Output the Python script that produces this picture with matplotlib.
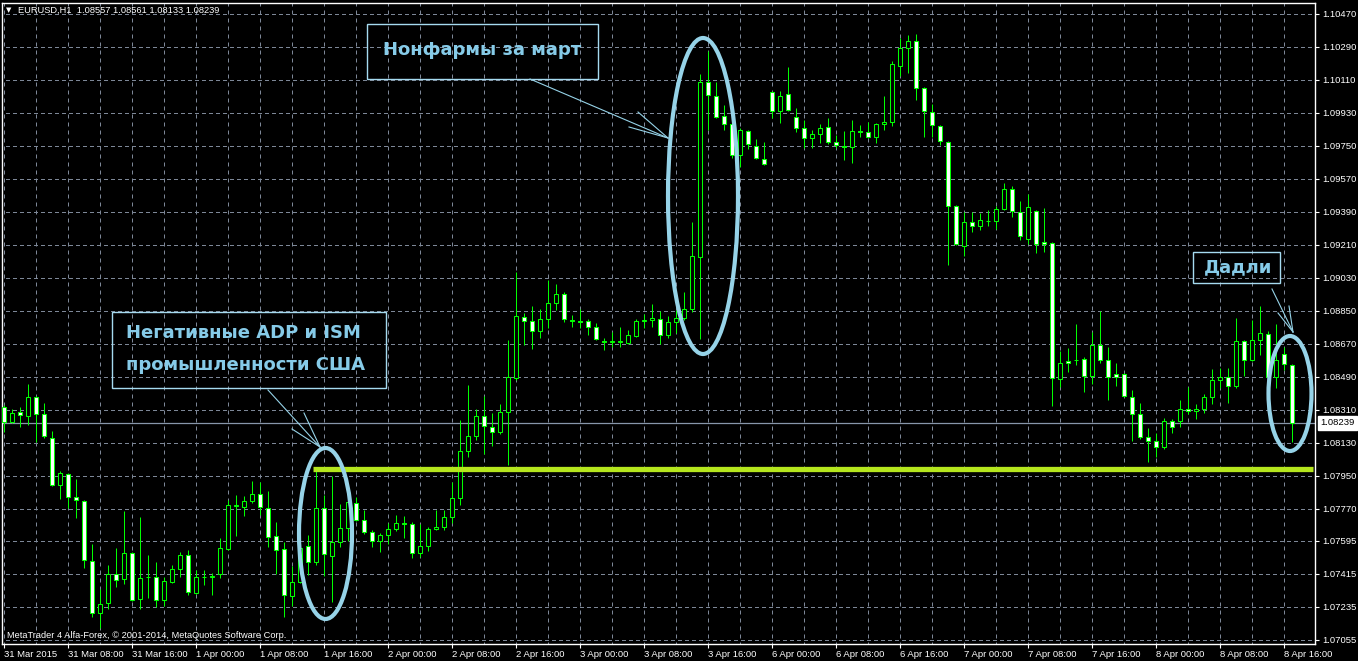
import matplotlib
matplotlib.use('Agg')
import matplotlib.pyplot as plt
from matplotlib.patches import Ellipse, Rectangle
import numpy as np

# ---------------- data (EURUSD H1, 31 Mar 2015 00:00 .. 8 Apr 2015 17:00) ----------------
opens = [1.08326, 1.08244, 1.08299, 1.08277, 1.08381, 1.08288, 1.08157, 1.07900, 1.07960, 1.07835,
         1.07814, 1.07486, 1.07202, 1.07257, 1.07415, 1.07388, 1.07530, 1.07279, 1.07399, 1.07399,
         1.07273, 1.07372, 1.07443, 1.07519, 1.07312, 1.07399, 1.07399, 1.07415, 1.07552, 1.07786,
         1.07781, 1.07814, 1.07851, 1.07775, 1.07623, 1.07552, 1.07295, 1.07372, 1.07568, 1.07481,
         1.07775, 1.07514, 1.07590, 1.07666, 1.07803, 1.07710, 1.07644, 1.07595, 1.07628, 1.07661,
         1.07694, 1.07688, 1.07530, 1.07568, 1.07661, 1.07672, 1.07726, 1.07829, 1.08086, 1.08168,
         1.08277, 1.08217, 1.08189, 1.08299, 1.08485, 1.08817, 1.08795, 1.08741, 1.08806, 1.08894,
         1.08942, 1.08801, 1.08795, 1.08795, 1.08763, 1.08686, 1.08681, 1.08681, 1.08675, 1.08714,
         1.08795, 1.08801, 1.08806, 1.08719, 1.08790, 1.08812, 1.08861, 1.09144, 1.10099, 1.10022,
         1.09914, 1.09870, 1.09701, 1.09832, 1.09750, 1.09679, 1.10044, 1.09941, 1.10033, 1.09908,
         1.09848, 1.09794, 1.09816, 1.09854, 1.09772, 1.09750, 1.09745, 1.09832, 1.09826, 1.09799,
         1.09870, 1.09881, 1.10186, 1.10284, 1.10322, 1.10066, 1.09936, 1.09859, 1.09772, 1.09422,
         1.09204, 1.09335, 1.09313, 1.09340, 1.09340, 1.09406, 1.09516, 1.09390, 1.09242, 1.09395,
         1.09226, 1.09220, 1.08480, 1.08577, 1.08583, 1.08588, 1.08495, 1.08665, 1.08583, 1.08506,
         1.08506, 1.08381, 1.08288, 1.08162, 1.08140, 1.08108, 1.08249, 1.08249, 1.08315, 1.08304,
         1.08315, 1.08381, 1.08474, 1.08490, 1.08441, 1.08686, 1.08583, 1.08692, 1.08725, 1.08490,
         1.08615, 1.08557]
highs = [1.08337, 1.08315, 1.08326, 1.08452, 1.08386, 1.08348, 1.08195, 1.07977, 1.07966, 1.07933,
         1.07819, 1.07579, 1.07334, 1.07464, 1.07557, 1.07759, 1.07535, 1.07726, 1.07519, 1.07481,
         1.07399, 1.07464, 1.07535, 1.07546, 1.07437, 1.07437, 1.07421, 1.07612, 1.07819, 1.07846,
         1.07840, 1.07922, 1.07917, 1.07868, 1.07699, 1.07590, 1.07459, 1.07574, 1.07628, 1.07982,
         1.07846, 1.07949, 1.07797, 1.07829, 1.07835, 1.07764, 1.07655, 1.07639, 1.07694, 1.07737,
         1.07732, 1.07699, 1.07688, 1.07672, 1.07764, 1.07764, 1.07917, 1.08255, 1.08446, 1.08315,
         1.08386, 1.08293, 1.08342, 1.08692, 1.09062, 1.08839, 1.08877, 1.08861, 1.09019, 1.08997,
         1.08953, 1.08828, 1.08861, 1.08806, 1.08785, 1.08702, 1.08735, 1.08763, 1.08746, 1.08806,
         1.08834, 1.08888, 1.08850, 1.08823, 1.08855, 1.08953, 1.09335, 1.10142, 1.10268, 1.10099,
         1.09974, 1.09876, 1.09848, 1.09837, 1.09788, 1.09772, 1.10050, 1.10050, 1.10181, 1.09957,
         1.09892, 1.09837, 1.09870, 1.09903, 1.09810, 1.09832, 1.09892, 1.09865, 1.09881, 1.09876,
         1.10022, 1.10213, 1.10339, 1.10355, 1.10361, 1.10071, 1.09979, 1.09865, 1.09777, 1.09428,
         1.09390, 1.09390, 1.09384, 1.09400, 1.09422, 1.09548, 1.09532, 1.09449, 1.09488, 1.09400,
         1.09411, 1.09226, 1.08632, 1.08648, 1.08779, 1.08599, 1.08735, 1.08850, 1.08654, 1.08566,
         1.08510, 1.08419, 1.08348, 1.08211, 1.08184, 1.08266, 1.08260, 1.08364, 1.08435, 1.08342,
         1.08397, 1.08534, 1.08539, 1.08539, 1.08812, 1.08692, 1.08801, 1.08877, 1.08741, 1.08779,
         1.08654, 1.08561]
lows = [1.08189, 1.08239, 1.08217, 1.08228, 1.08135, 1.08157, 1.07895, 1.07824, 1.07775, 1.07721,
        1.07448, 1.07180, 1.07120, 1.07224, 1.07344, 1.07361, 1.07268, 1.07224, 1.07284, 1.07235,
        1.07240, 1.07366, 1.07399, 1.07301, 1.07306, 1.07355, 1.07301, 1.07394, 1.07546, 1.07623,
        1.07732, 1.07803, 1.07737, 1.07563, 1.07415, 1.07180, 1.07240, 1.07366, 1.07410, 1.07464,
        1.07404, 1.07262, 1.07563, 1.07595, 1.07704, 1.07634, 1.07563, 1.07535, 1.07579, 1.07650,
        1.07612, 1.07503, 1.07508, 1.07541, 1.07655, 1.07655, 1.07694, 1.07792, 1.08053, 1.08146,
        1.08069, 1.08113, 1.08179, 1.08009, 1.08474, 1.08665, 1.08643, 1.08703, 1.08757, 1.08855,
        1.08790, 1.08763, 1.08757, 1.08719, 1.08692, 1.08637, 1.08654, 1.08654, 1.08670, 1.08708,
        1.08757, 1.08763, 1.08670, 1.08703, 1.08730, 1.08801, 1.08845, 1.08697, 1.09837, 1.09903,
        1.09837, 1.09685, 1.09636, 1.09734, 1.09679, 1.09646, 1.09903, 1.09876, 1.09941, 1.09826,
        1.09739, 1.09739, 1.09766, 1.09761, 1.09739, 1.09674, 1.09657, 1.09799, 1.09794, 1.09766,
        1.09837, 1.09859, 1.10131, 1.10148, 1.10001, 1.09799, 1.09799, 1.09756, 1.09100, 1.09210,
        1.09150, 1.09280, 1.09291, 1.09313, 1.09297, 1.09400, 1.09362, 1.09237, 1.09215, 1.09166,
        1.09171, 1.08331, 1.08435, 1.08517, 1.08555, 1.08408, 1.08452, 1.08566, 1.08364, 1.08441,
        1.08378, 1.08140, 1.08151, 1.08026, 1.08053, 1.08097, 1.08184, 1.08217, 1.08288, 1.08260,
        1.08293, 1.08342, 1.08430, 1.08348, 1.08430, 1.08495, 1.08577, 1.08610, 1.08474, 1.08430,
        1.08528, 1.08133]
closes = [1.08244, 1.08293, 1.08282, 1.08381, 1.08288, 1.08168, 1.07900, 1.07966, 1.07835, 1.07819,
          1.07492, 1.07202, 1.07251, 1.07415, 1.07383, 1.07530, 1.07273, 1.07394, 1.07396, 1.07273,
          1.07377, 1.07443, 1.07519, 1.07317, 1.07399, 1.07396, 1.07402, 1.07557, 1.07792, 1.07792,
          1.07814, 1.07851, 1.07781, 1.07617, 1.07546, 1.07301, 1.07372, 1.07557, 1.07481, 1.07775,
          1.07524, 1.07590, 1.07666, 1.07808, 1.07710, 1.07644, 1.07595, 1.07628, 1.07661, 1.07694,
          1.07690, 1.07530, 1.07568, 1.07661, 1.07672, 1.07726, 1.07829, 1.08086, 1.08168, 1.08277,
          1.08222, 1.08189, 1.08299, 1.08490, 1.08823, 1.08795, 1.08741, 1.08806, 1.08894, 1.08942,
          1.08806, 1.08795, 1.08790, 1.08763, 1.08697, 1.08681, 1.08686, 1.08684, 1.08719, 1.08795,
          1.08798, 1.08812, 1.08719, 1.08790, 1.08812, 1.08861, 1.09150, 1.10099, 1.10028, 1.09908,
          1.09870, 1.09701, 1.09837, 1.09761, 1.09685, 1.09652, 1.09941, 1.10022, 1.09946, 1.09848,
          1.09794, 1.09816, 1.09848, 1.09772, 1.09756, 1.09746, 1.09832, 1.09828, 1.09799, 1.09870,
          1.09881, 1.10197, 1.10284, 1.10322, 1.10066, 1.09941, 1.09865, 1.09777, 1.09422, 1.09215,
          1.09335, 1.09313, 1.09346, 1.09343, 1.09406, 1.09516, 1.09395, 1.09259, 1.09417, 1.09215,
          1.09215, 1.08485, 1.08566, 1.08566, 1.08580, 1.08495, 1.08665, 1.08583, 1.08490, 1.08490,
          1.08385, 1.08288, 1.08162, 1.08140, 1.08108, 1.08249, 1.08217, 1.08315, 1.08304, 1.08315,
          1.08381, 1.08474, 1.08490, 1.08441, 1.08686, 1.08583, 1.08692, 1.08730, 1.08490, 1.08583,
          1.08561, 1.08239]

price_ticks = [1.10470, 1.10290, 1.10110, 1.09930, 1.09750, 1.09570, 1.09390, 1.09210, 1.09030,
               1.08850, 1.08670, 1.08490, 1.08310, 1.08130, 1.07950, 1.07770, 1.07595, 1.07415,
               1.07235, 1.07055]
price_labels = ['1.10470', '1.10290', '1.10110', '1.09930', '1.09750', '1.09570', '1.09390',
                '1.09210', '1.09030', '1.08850', '1.08670', '1.08490', '1.08310', '1.08130',
                '1.07950', '1.07770', '1.07595', '1.07415', '1.07235', '1.07055']
time_labels = ['31 Mar 2015', '31 Mar 08:00', '31 Mar 16:00', '1 Apr 00:00', '1 Apr 08:00',
               '1 Apr 16:00', '2 Apr 00:00', '2 Apr 08:00', '2 Apr 16:00', '3 Apr 00:00',
               '3 Apr 08:00', '3 Apr 16:00', '6 Apr 00:00', '6 Apr 08:00', '6 Apr 16:00',
               '7 Apr 00:00', '7 Apr 08:00', '7 Apr 16:00', '8 Apr 00:00', '8 Apr 08:00',
               '8 Apr 16:00']
bars_per_label = 8
last_price = 1.08239
support_level = 1.0799
support_start = 38.7

# ---------------- styling ----------------
GREEN = '#00ff00'
GRID = '#7d8797'
BLUE = '#96d3e8'
TXT_BLUE = '#86cbe8'
SMALL_FONT = 'Liberation Sans'

W, H = 1358, 661
fig = plt.figure(figsize=(W / 100, H / 100), dpi=100, facecolor='black')

L_px, R_px, T_px, B_px = 2, 1315, 3, 644
ax = fig.add_axes([L_px / W, (H - B_px) / H, (R_px - L_px) / W, (B_px - T_px) / H])
ax.set_facecolor('black')

n = len(opens)
idx = np.arange(n)
o = np.array(opens); h = np.array(highs); l = np.array(lows); c = np.array(closes)

# 8 px per bar; offset so that bar centres fall on pixel centres
ax.set_xlim(-0.1875, 163.9375)
ax.set_ylim(1.07033, 1.10530)

# grid
ax.hlines(price_ticks, -1, 170, colors=GRID, linewidth=0.6, linestyles=(0, (4, 4)),
          zorder=1, antialiased=False)
ax.vlines(np.arange(0, 165, 4), 1.0, 1.2, colors=GRID, linewidth=0.72, linestyles=(0, (4, 4)),
          zorder=1)

# bid line
ax.axhline(last_price, color='#8796aa', linewidth=0.9, zorder=2)

# candles
ax.vlines(idx, l, h, colors=GREEN, linewidth=0.72, zorder=3)
up = c >= o
fills = np.where(up, 'black', 'white')
ax.bar(idx, c - o, bottom=o, width=0.5, color=fills, edgecolor=GREEN, linewidth=0.75, zorder=4)

# support line
ax.hlines(support_level, support_start, 163.7, colors='#b5e61d', linewidth=3.8, zorder=6)

# axes / ticks
for s in ax.spines.values():
    s.set_color('white')
    s.set_linewidth(1.0)
ax.yaxis.tick_right()
ax.set_yticks(price_ticks)
ax.set_yticklabels(price_labels)
ax.set_xticks(np.arange(len(time_labels)) * bars_per_label)
ax.set_xticklabels(time_labels, ha='left')
ax.tick_params(axis='y', colors='white', length=3, width=0.8, pad=2, labelsize=6.8)
ax.tick_params(axis='x', colors='white', length=3, width=0.8, pad=1.5, labelsize=6.8)
for lab in ax.get_xticklabels() + ax.get_yticklabels():
    lab.set_fontfamily(SMALL_FONT)

ax.annotate(f'{last_price:.5f}', xy=(1.0, last_price), xycoords=('axes fraction', 'data'),
            xytext=(3.5, 0), textcoords='offset points', ha='left', va='center',
            color='black', fontsize=6.8, family=SMALL_FONT,
            bbox=dict(boxstyle='square,pad=0.25', fc='white', ec='white'),
            annotation_clip=False, zorder=10)

# ---------------- overlay (pixel coordinates) ----------------
ov = fig.add_axes([0, 0, 1, 1], facecolor='none')
ov.set_xlim(0, W)
ov.set_ylim(H, 0)
ov.axis('off')

ov.text(9, 10.5, '▼', color='white', fontsize=5, ha='center', va='center', family='DejaVu Sans')
ov.text(18, 10.5, 'EURUSD,H1  1.08557 1.08561 1.08133 1.08239', color='white',
        fontsize=6.7, ha='left', va='center', family=SMALL_FONT)
ov.text(7, 635, 'MetaTrader 4 Alfa-Forex, © 2001-2014, MetaQuotes Software Corp.', color='white',
        fontsize=6.7, ha='left', va='center', family=SMALL_FONT)

# ellipses
for (cx, cy, ew, eh) in [(325.5, 533.5, 53, 171), (703, 196, 70, 316), (1290, 393.5, 43, 115)]:
    ov.add_patch(Ellipse((cx, cy), ew, eh, fill=False, ec=BLUE, lw=3.0, zorder=8))

# boxes
for (x0, y0, bw, bh) in [(367, 24, 231, 55), (112, 312, 274, 76), (1193, 252, 87, 31)]:
    ov.add_patch(Rectangle((x0, y0), bw, bh, fill=False, ec='#a6dbf0', lw=1.0, zorder=8))

tkw = dict(color=TXT_BLUE, fontsize=13, fontweight='bold', family='DejaVu Sans',
           ha='left', va='center', zorder=9)
ov.text(383, 50, 'Нонфармы за март', **tkw)
ov.text(126, 333, 'Негативные ADP и ISM', **tkw)
ov.text(126, 365, 'промышленности США', **tkw)
ov.text(1204, 267, 'Дадли', **tkw)

# pointer arrows (shaft + two head strokes)
arrows = [((530, 79), (668, 138), [(638, 112), (629, 127)]),
          ((268, 390), (320, 447), [(304, 413), (292, 429)]),
          ((1272, 289), (1293, 332), [(1278, 313), (1289, 306)])]
for start, apex, heads in arrows:
    ov.plot([start[0], apex[0]], [start[1], apex[1]], color=BLUE, lw=0.8, zorder=9)
    for hx, hy in heads:
        ov.plot([hx, apex[0]], [hy, apex[1]], color=BLUE, lw=0.8, zorder=9)

fig.savefig('out.png', dpi=100, facecolor='black')
